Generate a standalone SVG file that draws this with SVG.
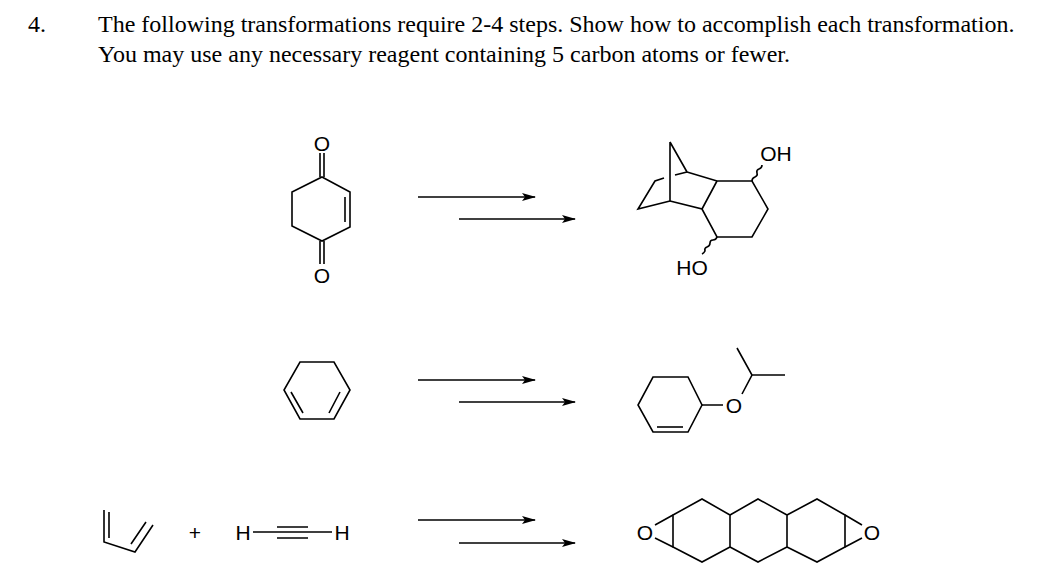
<svg xmlns="http://www.w3.org/2000/svg" width="1040" height="583" viewBox="0 0 1040 583">
<style>
.t{font-family:"Liberation Serif",serif;font-size:24px;fill:#000}
.a{font-family:"Liberation Sans",Arial,sans-serif;font-size:21px;fill:#000;text-anchor:middle;dominant-baseline:central}
.b{stroke:#000;stroke-width:1.6;fill:none;stroke-linejoin:miter}
.r{stroke:#000;stroke-width:1.6}
</style>
<defs><marker id="ah" markerWidth="14" markerHeight="8" refX="13" refY="4" orient="auto" markerUnits="userSpaceOnUse"><path d="M0,0 L14,4 L0,8 L3,4 Z" fill="#000"/></marker></defs>
<rect width="1040" height="583" fill="#fff"/>
<text class="t" x="28" y="32">4.</text>
<text class="t" x="98" y="32">The following transformations require 2-4 steps. Show how to accomplish each transformation.</text>
<text class="t" x="98" y="62">You may use any necessary reagent containing 5 carbon atoms or fewer.</text>

<g id="quinone" class="b">
<path d="M322,177 L350,192 L350,227 L322,241 L292,226 L292,192 Z"/>
<path d="M345,197 L345,222"/>
<path d="M320,177 V153 M324,177 V153 M320,241 V264 M324,241 V264"/>
<text class="a" x="322" y="143" stroke="none">O</text>
<text class="a" x="322" y="275" stroke="none">O</text>
</g>
<g id="cyclohexadiene" class="b">
<path d="M300,362 L334,362 L350,390 L334,419 L300,419 L284,390 Z"/>
<path d="M291,392 L303,413 M340,392 L329,413"/>
</g>
<g id="butadiene" class="b">
<path d="M104,510 L104,542 L135,552 L153,525"/>
<path d="M109,512 L109,538 M131,544 L146,522"/>
</g>
<g id="plus"><text class="a" x="195" y="532">+</text></g>
<g id="acetylene" class="b">
<text class="a" x="243" y="532" stroke="none">H</text>
<path d="M253,532 H332 M277,527 H308 M277,538 H308"/>
<text class="a" x="342" y="532" stroke="none">H</text>
</g>
<g id="arrows" class="r">
<path d="M418,197 H535" marker-end="url(#ah)"/>
<path d="M459,219 H575" marker-end="url(#ah)"/>
<path d="M418,380 H535" marker-end="url(#ah)"/>
<path d="M459,402 H575" marker-end="url(#ah)"/>
<path d="M418,520 H535" marker-end="url(#ah)"/>
<path d="M459,543 H575" marker-end="url(#ah)"/>
</g>
<g id="diol" class="b">
<path d="M670,142 L687,172 M670,142 L670,201"/>
<path d="M687,172 L675,175 M664,178 L655,181 L638,209 L670,201"/>
<path d="M687,172 L717,181 L752,181 L768,209 L752,237 L717,237 L702,209 L670,201 M702,209 L717,181"/>
<path d="M752,181 q0,-3 3,-4 q3,-1 2,-4 q-1,-3 2,-4 q3,-1 3,-4"/>
<path d="M717,237 q-1,3 -4,3 q-3,0 -3,3 q0,3 -3,4 q-3,1 -2,4 q-1,2 -3,3"/>
<text class="a" x="776" y="153" stroke="none">OH</text>
<text class="a" x="692" y="267" stroke="none">HO</text>
</g>
<g id="ether" class="b">
<path d="M653,377 L688,377 L702,405 L688,432 L653,432 L638,405 Z"/>
<path d="M657,427 H683"/>
<path d="M702,405 H723 M742,394 L752,375 L737,348 M752,375 H785"/>
<text class="a" x="734" y="405" stroke="none">O</text>
</g>
<g id="diepoxide" class="b">
<path d="M673,515 L702,499 L730,515 L730,547 L702,562 L673,547 Z"/>
<path d="M730,515 L758,499 L787,515 L787,547 L758,562 L730,547"/>
<path d="M787,515 L817,499 L845,515 L845,547 L817,562 L787,547"/>
<path d="M673,515 L655,525 M673,547 L655,538 M845,515 L862,525 M845,547 L862,538"/>
<text class="a" x="645" y="532" stroke="none">O</text>
<text class="a" x="872" y="532" stroke="none">O</text>
</g>
</svg>
